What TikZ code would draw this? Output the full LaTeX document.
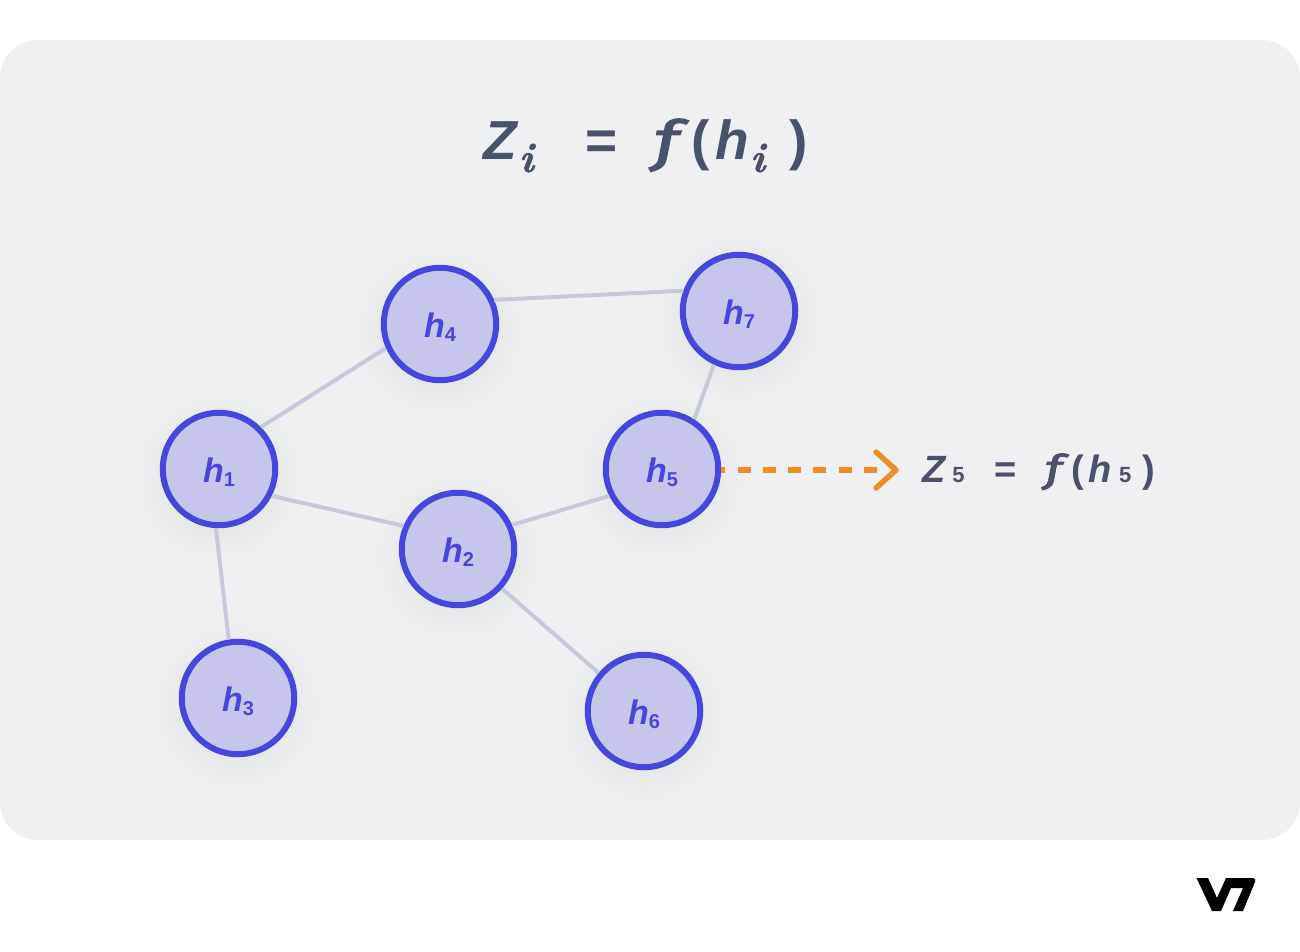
\documentclass[tikz,border=0pt]{standalone}
\usepackage{fontspec}
\usepackage{graphicx}
\setmainfont{Liberation Sans}
\newfontfamily\firaf[ItalicFeatures={FakeBold=2}]{Fira Sans}
\newfontfamily\lmi[BoldItalicFeatures={FakeBold=1.2}]{Latin Modern Roman}
\definecolor{panelbg}{HTML}{EFF0F2}
\definecolor{nodefill}{HTML}{C6C6EC}
\definecolor{nodeline}{HTML}{4646DC}
\definecolor{edgecol}{HTML}{C2CADB}
\definecolor{inkcol}{HTML}{47536B}
\definecolor{arrowcol}{HTML}{EE8C26}
\newcommand{\hsub}[1]{{\fontsize{20}{20}\selectfont\bfseries\upshape\raisebox{-4.5pt}{#1}}}
\newcommand{\bigsub}[1]{{\fontsize{42}{42}\selectfont\lmi\bfseries\itshape\raisebox{-12pt}{#1}}}
\newcommand{\smsub}[1]{{\fontsize{22}{22}\selectfont\bfseries\upshape #1}}
\newcommand{\fglyph}{{\firaf\mdseries\itshape\scalebox{1.4}[1]{f}}}
\tikzset{
  x=1pt,y=-1pt,
  hnode/.style={circle,draw=nodeline,fill=nodefill,line width=6pt,minimum size=112.5pt,inner sep=0pt,
    text height=26pt,text depth=0pt,
    text=nodeline,font=\fontsize{34}{34}\selectfont\bfseries\itshape},
  edge/.style={draw=edgecol,line width=4pt},
  flow/.style={draw=arrowcol,line width=5.5pt,dash pattern=on 13pt off 12.3pt,dash phase=9pt},
  chev/.style={draw=arrowcol,line width=5.5pt,line cap=round,line join=round},
  eqn/.style={text=inkcol,inner sep=0pt,anchor=base west},
}
\begin{document}
\begin{tikzpicture}
\useasboundingbox (0,0) rectangle (1300,952);
\fill[white] (0,0) rectangle (1300,952);
\fill[panelbg,rounded corners=38pt] (0,40) rectangle (1300,840);
% soft shadows
\foreach \cx/\cy in {219/469,458/549,238/698,662/469,440/324,739/311,644/711}{
  \foreach \r in {84,80,...,56}{
    \fill[black,opacity=0.004] (\cx,\cy+8) circle[radius=\r];
  }
}
\node[hnode] (h1) at (219,469) {h\hsub{1}};
\node[hnode] (h2) at (458,549) {h\hsub{2}};
\node[hnode] (h3) at (238,698) {h\hsub{3}};
\node[hnode] (h4) at (440,324) {h\hsub{4}};
\node[hnode] (h5) at (662,469) {h\hsub{5}};
\node[hnode] (h6) at (644,711) {h\hsub{6}};
\node[hnode] (h7) at (739,311) {h\hsub{7}};
\begin{scope}[every path/.append style={edge}]
\draw (h1.45) -- (h4.204);
\draw (h1.-27) -- (h2.157);
\draw (h1.-93) -- (h3.99);
\draw (h2.24) -- (h5.207);
\draw (h2.-42) -- (h6.140);
\draw (h4.24) -- (h7.160);
\draw (h5.57) -- (h7.245);
\end{scope}
\coordinate (shaftend) at (878,470);
\coordinate (armA) at (876,452);
\coordinate (tip) at (896,470);
\coordinate (armB) at (876,488);
\draw[flow] (h5.east |- shaftend) -- (shaftend);
\draw[chev] (armA) -- (tip) -- (armB);
\node[eqn,font=\fontsize{55}{55}\selectfont\bfseries\itshape] (main) at (483,160)
  {Z\kern2pt\bigsub{i}\kern52pt\upshape=\kern36pt\fglyph\kern12pt(\kern6pt\itshape h\kern1pt\bigsub{i}\kern24pt\upshape)};
\node[eqn,font=\fontsize{38}{38}\selectfont\bfseries\itshape] (side) at (922,482)
  {Z\kern7pt\smsub{5}\kern30pt\upshape=\kern28pt\fglyph\kern9pt(\kern4pt\itshape h\kern8pt\smsub{5}\kern11pt\upshape)};
\fill[black] (1196.5,878) -- (1208,878) -- (1217,898) -- (1226,878) -- (1252,878)
  .. controls (1255,878) and (1256,880) .. (1255,882) -- (1243,911) -- (1233,911) -- (1243,888)
  -- (1231,888) -- (1221,911) -- (1212,911) -- cycle;
\end{tikzpicture}
\end{document}
